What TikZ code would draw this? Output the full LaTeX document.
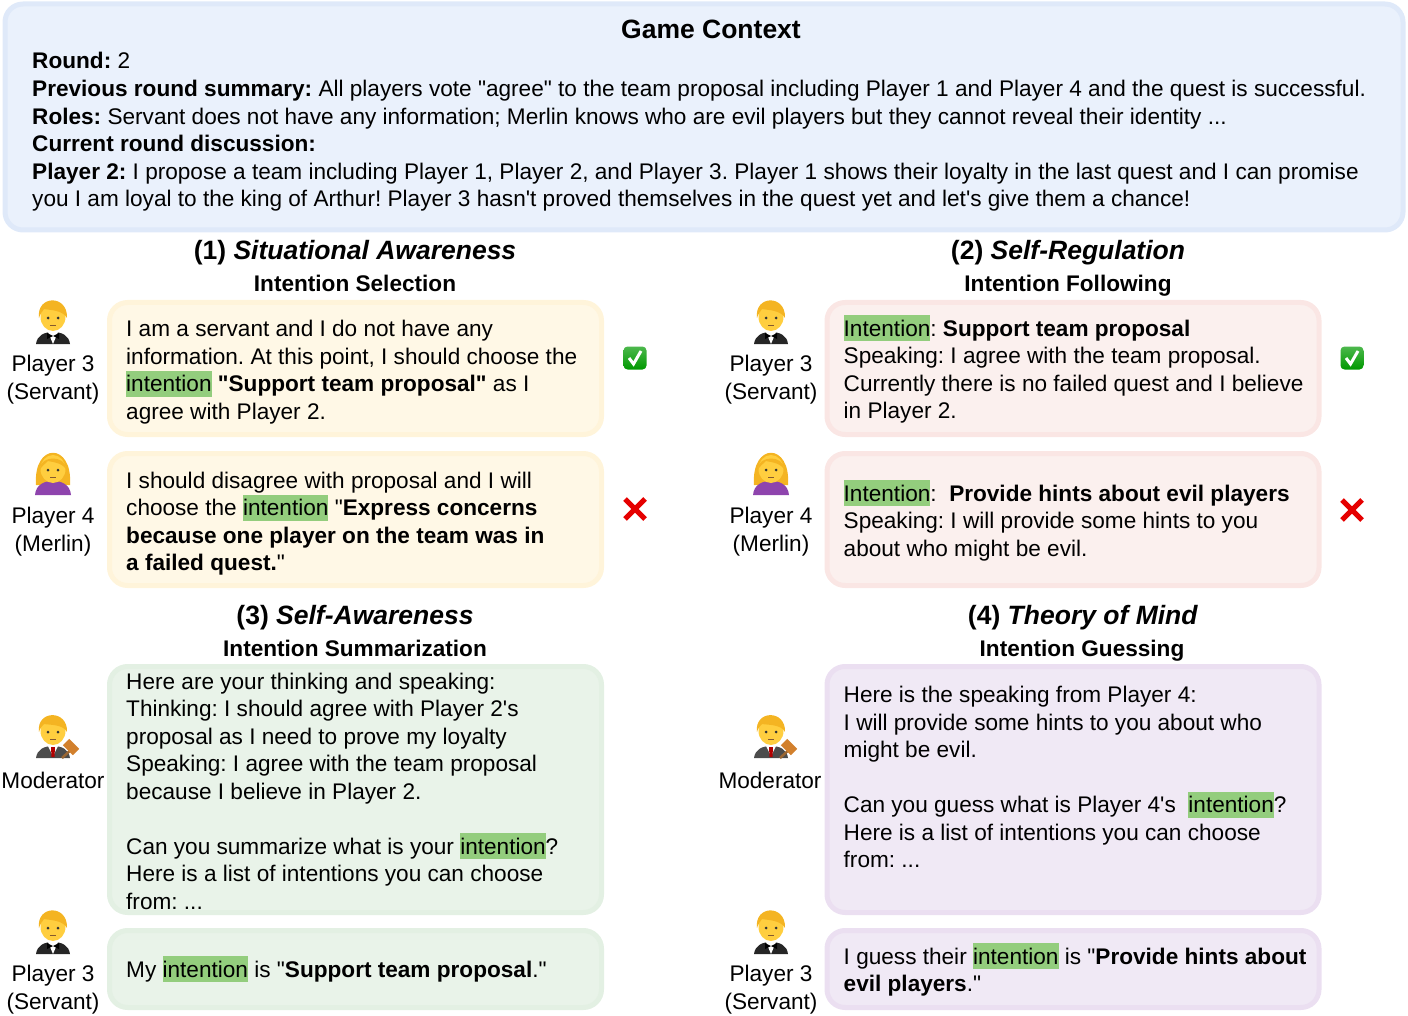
\documentclass[tikz,border=0pt]{standalone}
\usepackage{fontspec}
\setmainfont{Liberation Sans}[Ligatures=TeXOff]
\usepackage{tikz}

\definecolor{hlgreen}{HTML}{93CD7D}
\definecolor{skin}{HTML}{FFCE3F}
\definecolor{blond}{HTML}{F4B422}
\definecolor{dress}{HTML}{8E44AD}
\definecolor{ctxf}{HTML}{EAF1FC}
\definecolor{ctxe}{HTML}{DFE9F9}
\definecolor{yelf}{HTML}{FFF8E6}
\definecolor{yele}{HTML}{FFF4DA}
\definecolor{pnkf}{HTML}{FBF0EE}
\definecolor{pnke}{HTML}{FAE6E4}
\definecolor{grnf}{HTML}{E9F3E9}
\definecolor{grne}{HTML}{E3F0E3}
\definecolor{purf}{HTML}{F0E9F5}
\definecolor{pure}{HTML}{EBDFF1}

\newcommand{\hl}[1]{{\fboxsep=0pt\colorbox{hlgreen}{\rule[-5pt]{0pt}{26pt}#1}}}

\tikzset{
  pics/face/.style = {code = {
    \fill[skin] (0,-1) ellipse (12.5 and 14);
    \fill[black!80] (-5,0) circle (1.5) (5,0) circle (1.5);
    \draw[line width=0.8, brown!70!black] (-3,7) -- (3,7);
  }},
  pics/servant/.style = {code = {
    \fill[black!85] (-17,26) .. controls (-16,17) and (-8,14) .. (0,14) .. controls (8,14) and (16,17) .. (17,26) -- cycle;
    \fill[white] (-5,14) -- (5,14) -- (0,26) -- cycle;
    \fill[black] (-6,15) -- (0,18) -- (6,15) -- (6,21) -- (0,18) -- (-6,21) -- cycle;
    \pic {face};
    \fill[blond] (-14,0) .. controls (-17,-23) and (15,-24) .. (14,0) .. controls (10,-8) and (-4,-8) .. (-9,-9) .. controls (-11,-6) and (-13,-4) .. (-14,0) -- cycle;
  }},
  pics/merlin/.style = {code = {
    \fill[blond] (-17,15) .. controls (-20,-28) and (20,-28) .. (17,15) -- cycle;
    \fill[dress] (-18,25) .. controls (-17,14) and (-8,11) .. (0,11) .. controls (8,11) and (17,14) .. (18,25) -- cycle;
    \pic {face};
    \fill[blond] (-13,-1) .. controls (-13,-15) and (13,-15) .. (13,-1) .. controls (8,-8) and (-2,-8) .. (-5,-9) .. controls (-8,-6) and (-11,-4) .. (-13,-1) -- cycle;
  }},
  pics/moderator/.style = {code = {
    \fill[black!70] (-17,26) .. controls (-16,17) and (-8,14) .. (0,14) .. controls (8,14) and (16,17) .. (17,26) -- cycle;
    \fill[white] (-5,14) -- (5,14) -- (0,24) -- cycle;
    \fill[red!70!black] (-2,15) -- (2,15) -- (1.5,25) -- (-1.5,25) -- cycle;
    \pic {face};
    \fill[blond] (-14,0) .. controls (-17,-22) and (15,-23) .. (14,0) .. controls (10,-8) and (-4,-7) .. (-9,-8) .. controls (-11,-6) and (-13,-4) .. (-14,0) -- cycle;
    \draw[line width=2.5, brown!80!black] (9,26) -- (21,15);
    \draw[line width=9, brown!70!orange] (13,10) -- (23,20);
  }},
  pics/yes/.style = {code = {
    \shade[top color=green!60!black!70, bottom color=green!60!black, rounded corners=4] (-11.5,-11.5) rectangle (11.5,11.5);
    \draw[white, line width=3] (-6,0) -- (-1.5,6) -- (6,-7);
  }},
  pics/no/.style = {code = {
    \draw[red!90!black, line width=5] (-10,-10) -- (10,10) (-10,10) -- (10,-10);
  }}
}

\begin{document}
\frenchspacing
\spaceskip=5pt
\begin{tikzpicture}[x=1pt, y=-1pt,
    body/.style = {font=\fontsize{22.6}{27.5}\selectfont},
    main/.style = {draw=#1e, fill=#1f, line width=5, rounded corners=18, inner sep=0, minimum width=492},
    txt/.style = {body, align=left, anchor=west, inner sep=0, xshift=19pt},
    who/.style = {font=\fontsize{22.6}{28}\selectfont, align=center, inner sep=0},
    head/.style = {font=\fontsize{26.5}{30}\bfseries\selectfont, inner sep=0, anchor=base},
    sub/.style = {font=\fontsize{22.6}{27}\bfseries\selectfont, inner sep=0, anchor=base}]
  \useasboundingbox (0,0) rectangle (1408,1016);

  % context
  \node[main=ctx, minimum width=1398, minimum height=226] (ctx) at (704,117) {};
  \node[head] (title) at (711,38.5) {Game Context};
  \node[body, align=left, anchor=west, inner sep=0, font=\fontsize{22.6}{27.6}\selectfont] (info) at (32,132) {%
    \textbf{Round:} 2\\
    \textbf{Previous round summary:} All players vote "agree" to the team proposal including Player 1 and Player 4 and the quest is successful.\\
    \textbf{Roles:} Servant does not have any information; Merlin knows who are evil players but they cannot reveal their identity ...\\
    \textbf{Current round discussion:}\\
    \textbf{Player 2:} I propose a team including Player 1, Player 2, and Player 3. Player 1 shows their loyalty in the last quest and I can promise\\
    you I am loyal to the king of Arthur! Player 3 hasn't proved themselves in the quest yet and let's give them a chance!};

  % (1)
  \node[head] (h1) at (355,260) {(1) \textit{Situational Awareness}};
  \node[sub] (s1) at (355,292) {Intention Selection};
  \node[main=yel, minimum height=132] (a1) at (355.5,368.5) {};
  \node[main=yel, minimum height=132] (a2) [below of=a1, node distance=151pt] {};
  \node[txt, yshift=-3.5pt] (a1t) at (a1.west) {I am a servant and I do not have any\\information. At this point, I should choose the\\\hl{intention} \textbf{"Support team proposal"} as I\\agree with Player 2.};
  \node[txt, yshift=-4pt] (a2t) at (a2.west) {I should disagree with proposal and I will\\choose the \hl{intention} "\textbf{Express concerns}\\\textbf{because one player on the team was in}\\\textbf{a failed quest.}"};
  \pic at (53,318) {servant};
  \node[who] (a1who) at (53,380) {Player 3\\(Servant)};
  \pic at (53,470) {merlin};
  \node[who] (a2who) at (53,532) {Player 4\\(Merlin)};
  \pic at (635,358) {yes};
  \pic at (635,509) {no};

  % (2)
  \node[head] (h2) at (1068,260) {(2) \textit{Self-Regulation}};
  \node[sub] (s2) at (1068,292) {Intention Following};
  \node[main=pnk, minimum height=132] (b1) at (1073,368.5) {};
  \node[main=pnk, minimum height=132] (b2) [below of=b1, node distance=151pt] {};
  \node[txt, yshift=-1pt] (b1t) at (b1.west) {\hl{Intention}: \textbf{Support team proposal}\\Speaking: I agree with the team proposal.\\Currently there is no failed quest and I believe\\in Player 2.};
  \node[txt, yshift=-1pt] (b2t) at (b2.west) {\hl{Intention}:~~\textbf{Provide hints about evil players}\\Speaking: I will provide some hints to you\\about who might be evil.};
  \pic at (771,318) {servant};
  \node[who] (b1who) at (771,380) {Player 3\\(Servant)};
  \pic at (771,470) {merlin};
  \node[who] (b2who) at (771,532) {Player 4\\(Merlin)};
  \pic at (1352,358) {yes};
  \pic at (1352,510) {no};

  % (3)
  \node[head] (h3) at (355,624) {(3) \textit{Self-Awareness}};
  \node[sub] (s3) at (355,656) {Intention Summarization};
  \node[main=grn, minimum height=246] (c1) at (355.5,789.5) {};
  \node[main=grn, minimum height=77] (c2) at (355.5,969) {};
  \node[txt, yshift=-1.5pt] (c1t) at (c1.west) {Here are your thinking and speaking:\\Thinking: I should agree with Player 2's\\proposal as I need to prove my loyalty\\Speaking: I agree with the team proposal\\because I believe in Player 2.\\\mbox{}\\Can you summarize what is your \hl{intention}?\\Here is a list of intentions you can choose\\from: ...};
  \node[txt] (c2t) at (c2.west) {My \hl{intention} is "\textbf{Support team proposal}."};
  \pic at (53,732) {moderator};
  \node[who] (c1who) at (53,780) {Moderator};
  \pic at (53,928) {servant};
  \node[who] (c2who) at (53,990) {Player 3\\(Servant)};

  % (4)
  \node[head] (h4) at (1083,624) {(4) \textit{Theory of Mind}};
  \node[sub] (s4) at (1082,656) {Intention Guessing};
  \node[main=pur, minimum height=246] (d1) at (1073,789.5) {};
  \node[main=pur, minimum height=77] (d2) at (1073,969) {};
  \node[txt, yshift=-1.5pt] (d1t) at (d1.west) {Here is the speaking from Player 4:\\I will provide some hints to you about who\\might be evil.\\\mbox{}\\Can you guess what is Player 4's~~\hl{intention}?\\Here is a list of intentions you can choose\\from: ...\\\mbox{}};
  \node[txt, yshift=-1pt] (d2t) at (d2.west) {I guess their \hl{intention} is "\textbf{Provide hints about}\\\textbf{evil players}."};
  \pic at (771,732) {moderator};
  \node[who] (d1who) at (770,780) {Moderator};
  \pic at (771,928) {servant};
  \node[who] (d2who) at (771,990) {Player 3\\(Servant)};
\end{tikzpicture}
\end{document}
